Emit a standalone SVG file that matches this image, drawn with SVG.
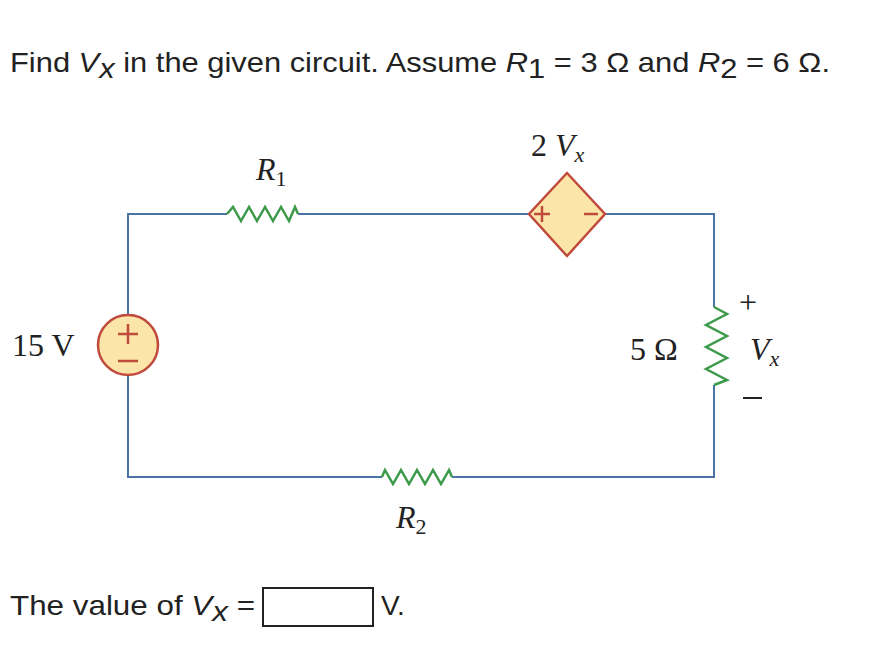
<svg xmlns="http://www.w3.org/2000/svg" width="878" height="668" viewBox="0 0 878 668">
<style>
.w{fill:none;stroke:#4a74a8;stroke-width:2}
.r{fill:none;stroke:#3d9a4a;stroke-width:2.5;stroke-linejoin:miter}
.s{fill:#fbe5a8;stroke:#c04a3c;stroke-width:2.5}
.p{stroke:#c04a3c;stroke-width:2.5}
.q{font-family:"Liberation Sans",Arial,sans-serif;font-size:28px;fill:#222}
.t{font-family:"Liberation Serif","Times New Roman",serif;font-size:32px;fill:#222}
</style>
<rect width="878" height="668" fill="#fff"/>
<text class="q" x="10" y="72" textLength="820" lengthAdjust="spacingAndGlyphs">Find <tspan font-style="italic">V</tspan><tspan font-style="italic" dy="6">x</tspan><tspan dy="-6"> in the given circuit. Assume </tspan><tspan font-style="italic">R</tspan><tspan dy="6">1</tspan><tspan dy="-6"> = 3 Ω and </tspan><tspan font-style="italic">R</tspan><tspan dy="6">2</tspan><tspan dy="-6"> = 6 Ω.</tspan></text>
<g id="wires">
<path class="w" d="M128 315 V214 H227 M298 214 H529 M605 214 H714 V307 M714 385 V477 H452 M382 477 H128 V375"/>
</g>
<g id="R1">
<path class="r" d="M227 214 L233 207 L241 221 L249 207 L257 221 L265 207 L273 221 L281 207 L289 221 L295 207 L298 214"/>
<text class="t" x="256" y="180" font-style="italic">R<tspan font-size="22" dy="6" font-style="normal">1</tspan></text>
</g>
<g id="dep">
<path class="s" d="M567 173 L605 214 L567 256 L529 214 Z"/>
<path class="p" d="M534 214 H550 M542 206 V222 M584 214 H598"/>
<text class="t" x="531" y="156">2 <tspan font-style="italic">V</tspan><tspan font-style="italic" font-size="22" dy="6">x</tspan></text>
</g>
<g id="V15">
<circle class="s" cx="128" cy="345" r="30"/>
<path class="p" d="M118 334 H138 M128 324 V344 M118 361 H138"/>
<text class="t" x="12" y="356">15 V</text>
</g>
<g id="R5">
<path class="r" d="M714 307 L727 314 L706 325 L727 336 L706 347 L727 358 L706 369 L727 380 L714 385"/>
<text class="t" x="630" y="360">5 Ω</text>
<text class="t" x="739" y="313">+</text>
<text class="t" x="750" y="360" font-style="italic">V<tspan font-size="22" dy="6">x</tspan></text>
<path d="M743 398 H762" stroke="#222" stroke-width="2"/>
</g>
<g id="R2">
<path class="r" d="M382 477 L385 470 L393 484 L401 470 L409 484 L417 470 L425 484 L433 470 L441 484 L449 470 L452 477"/>
<text class="t" x="396" y="528" font-style="italic">R<tspan font-size="22" dy="6" font-style="normal">2</tspan></text>
</g>
<text class="q" x="10" y="615" textLength="245" lengthAdjust="spacingAndGlyphs">The value of <tspan font-style="italic">V</tspan><tspan font-style="italic" dy="6">x</tspan><tspan dy="-6"> =</tspan></text>
<rect x="263" y="588" width="110" height="38" fill="#fff" stroke="#222" stroke-width="2"/>
<text class="q" x="381" y="615">V.</text>
</svg>
